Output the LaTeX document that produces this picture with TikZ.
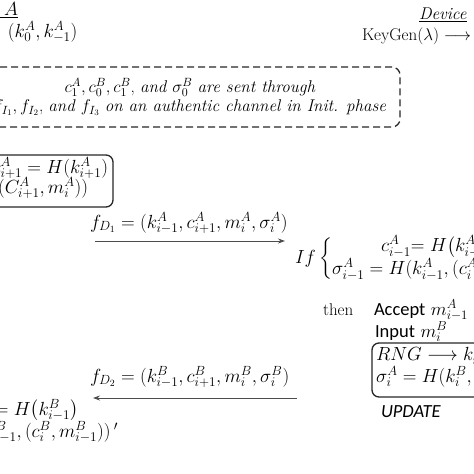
\RequirePackage{fix-cm}
\documentclass[tikz,border=0pt]{standalone}
\usepackage{amsmath}
\usepackage{fontspec}
\newfontfamily\calibri{Carlito}
\usetikzlibrary{arrows.meta}
\tikzset{
  txt/.style={inner sep=0pt, outer sep=0pt},
  mtxt/.style={inner sep=0pt, outer sep=0pt, font=\fontsize{19}{21}\selectfont},
  ctxt/.style={inner sep=0pt, outer sep=0pt, font=\fontsize{18.5}{21}\selectfont},
  msgarrow/.style={draw=black!70, line width=0.9pt, -{Stealth[length=7pt,width=5pt]}},
  solidbox/.style={draw=black!85, line width=1.3pt, rounded corners=7pt, inner sep=0pt},
  dashbox/.style={draw=black!85, line width=1.3pt, dash pattern=on 7pt off 4pt, rounded corners=8pt, inner sep=0pt, align=center},
}
\begin{document}
\begin{tikzpicture}[x=1pt,y=-1pt, font=\fontsize{17}{19}\selectfont]
\useasboundingbox (0,0) rectangle (474,474);
\clip (0,0) rectangle (474,474);
% headers
\node[mtxt, anchor=base east] (userA) at (18,15) {$\underline{\hphantom{MM}A}$};
\node[mtxt, anchor=base west] (keysA) at (8,37) {$(k_0^A, k_{-1}^A)$};
\node[txt, anchor=base west] (device) at (419,19) {\underline{\textit{Device}}};
\node[txt, anchor=base west] (keygen) at (362,40) {$\mathrm{KeyGen}(\lambda)\longrightarrow$};
% init box
\node[dashbox, minimum width=420pt, minimum height=60pt] (init) at (190,97)
  {$c_1^A, c_0^B, c_1^B$, \textit{and} $\sigma_0^B$ \textit{are sent through}\\
   $f_{I_1}, f_{I_2}$, \textit{and} $f_{I_3}$ \textit{on an authentic channel in Init. phase}};
% left box
\node[solidbox, minimum width=213pt, minimum height=52pt] (boxL) at (6.5,181) {};
\node[mtxt, anchor=base east] (L1) at (108,173) {$c_{i+1}^A = H(k_{i+1}^A)$};
\node[mtxt, anchor=base east] (L2) at (88,193) {$\sigma_i^A = H(k_i^A,(C_{i+1}^A, m_i^A))$};
% message 1
\node[mtxt, anchor=base west] (fD1) at (90,228) {$f_{D_1} = (k_{i-1}^A, c_{i+1}^A, m_i^A, \sigma_i^A)$};
\coordinate (m1s) at (95,241);
\coordinate (m1e) at (285,241);
\draw[msgarrow] (m1s) -- (m1e);
% if block
\node[mtxt, anchor=base west] (ifblk) at (295,263)
  {$If\left\{\begin{array}{@{}l@{}}
   \hspace*{49pt}c_{i-1}^A{=}\ H\bigl(k_{i-1}^A\bigr)\\[1pt]
   \sigma_{i-1}^A = H(k_{i-1}^A,(c_i^A, m_{i-1}^A))
   \end{array}\right.$};
\node[txt, anchor=base west] (then) at (323,315) {then};
\node[ctxt, anchor=base west] (accept) at (374,315) {{\calibri Accept} $m_{i-1}^A$};
\node[ctxt, anchor=base west] (input) at (375,337) {{\calibri Input} $m_i^B$};
% right box
\node[solidbox, minimum width=228pt, minimum height=54pt] (boxR) at (486,370) {};
\node[mtxt, anchor=base west] (R1) at (376,360) {$RNG \longrightarrow k_{i+1}^B$};
\node[mtxt, anchor=base west] (R2) at (376,382) {$\sigma_i^A = H(k_i^B,(c_{i+1}^B, m_i^B))$};
\node[ctxt, anchor=base west] (update) at (381,417) {{\calibri\itshape UPDATE}};
% message 2
\node[mtxt, anchor=base west] (fD2) at (90,382) {$f_{D_2} = (k_{i-1}^B, c_{i+1}^B, m_i^B, \sigma_i^B)$};
\coordinate (m2s) at (297,398);
\coordinate (m2e) at (93,398);
\draw[msgarrow] (m2s) -- (m2e);
% bottom left
\node[mtxt, anchor=base east] (B1) at (78,415) {$c_{i-1}^B = H\bigl(k_{i-1}^B\bigr)$};
\node[mtxt, anchor=base east] (B2) at (118,437) {$\sigma_{i-1}^B = H(k_{i-1}^B,(c_i^B, m_{i-1}^B))\,'$};
\end{tikzpicture}
\end{document}
